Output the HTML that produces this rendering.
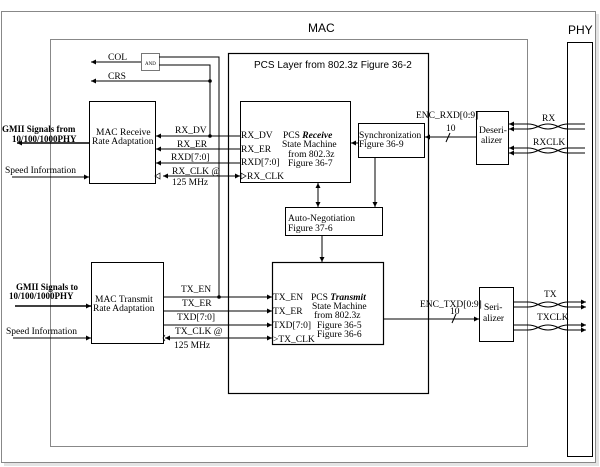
<!DOCTYPE html>
<html><head><meta charset="utf-8"><style>
html,body{margin:0;padding:0;background:#fff;}
svg{display:block;}
text{font-family:"Liberation Serif",serif;font-size:9.5px;fill:#000;}
.s{font-family:"Liberation Sans",sans-serif;font-size:12px;}
.b{font-weight:bold;}
</style></head><body>
<svg width="600" height="467" viewBox="0 0 600 467" xmlns="http://www.w3.org/2000/svg">
<defs>
<marker id="a" markerWidth="6" markerHeight="6" refX="5" refY="3" orient="auto" markerUnits="userSpaceOnUse"><path d="M0,0.5 L5,3 L0,5.5 z" fill="#000"/></marker>
<marker id="as" markerWidth="6" markerHeight="6" refX="1" refY="3" orient="auto" markerUnits="userSpaceOnUse"><path d="M6,0.5 L1,3 L6,5.5 z" fill="#000"/></marker>
</defs>
<rect x="4" y="14" width="595" height="452" fill="#e4e4e4"/>
<rect x="1.5" y="11.5" width="594" height="451" fill="#fff" stroke="#888"/>
<text class="s" x="308" y="32">MAC</text>
<text class="s" x="568" y="34">PHY</text>
<rect x="50.5" y="39.5" width="477" height="407" fill="none" stroke="#888"/>
<rect x="567.5" y="42.5" width="25" height="414" fill="#fff" stroke="#000"/>
<rect x="228.5" y="53.5" width="200" height="340" fill="none" stroke="#000" stroke-width="1.2"/>
<text class="s" x="254" y="68" style="font-size:10px">PCS Layer from 802.3z Figure 36-2</text>

<g stroke="#000" stroke-width="1" fill="none">
<rect x="141.5" y="53.5" width="18" height="17" stroke="#777"/>
<line x1="141" y1="62" x2="91" y2="62" marker-end="url(#a)"/>
<line x1="210" y1="81" x2="91" y2="81" marker-end="url(#a)"/>
<polyline points="159,57 219,57 219,297"/>
<polyline points="159,65 210,65 210,136"/>
<rect x="89.5" y="101.5" width="66" height="82"/>
<line x1="89" y1="143" x2="17" y2="143" marker-end="url(#a)" stroke-width="1.5"/>
<line x1="12" y1="177" x2="89" y2="177" marker-end="url(#a)"/>
<line x1="240" y1="136" x2="156" y2="136" marker-end="url(#a)"/>
<line x1="240" y1="149" x2="156" y2="149" marker-end="url(#a)"/>
<line x1="240" y1="163" x2="156" y2="163" marker-end="url(#a)"/>
<line x1="163" y1="176" x2="240" y2="176" marker-end="url(#a)" marker-start="url(#as)"/>
<rect x="240.5" y="101.5" width="110" height="81"/>
<rect x="358.5" y="123.5" width="66" height="34"/>
<line x1="358" y1="143" x2="351" y2="143" marker-end="url(#a)"/>
<line x1="476" y1="137" x2="425" y2="137" marker-end="url(#a)"/>
<line x1="446" y1="142" x2="450" y2="133"/>
<rect x="476.5" y="111.5" width="32" height="53"/>
<line x1="318" y1="183" x2="318" y2="207" marker-end="url(#a)" marker-start="url(#as)"/>
<line x1="375" y1="158" x2="375" y2="207" marker-end="url(#a)"/>
<rect x="285.5" y="207.5" width="97" height="28"/>
<line x1="322" y1="236" x2="322" y2="262" marker-end="url(#a)"/>
<rect x="91.5" y="262.5" width="72" height="81"/>
<line x1="15" y1="306" x2="91" y2="306" marker-end="url(#a)" stroke-width="1.5"/>
<line x1="13" y1="338" x2="91" y2="338" marker-end="url(#a)"/>
<line x1="164" y1="297" x2="272" y2="297" marker-end="url(#a)"/>
<line x1="164" y1="311" x2="272" y2="311" marker-end="url(#a)"/>
<line x1="164" y1="325" x2="272" y2="325" marker-end="url(#a)"/>
<line x1="165" y1="338" x2="272" y2="338" marker-end="url(#a)" marker-start="url(#as)"/>
<rect x="272.5" y="262.5" width="111" height="82" stroke-width="1.2"/>
<line x1="383" y1="319" x2="479" y2="319" marker-end="url(#a)"/>
<line x1="452" y1="323" x2="456" y2="314"/>
<rect x="479.5" y="287.5" width="34" height="54"/>
<path d="M585,124 H568 C558,124 558,129 548,129 C538,129 538,124 528,124 H509" marker-end="url(#a)"/>
<path d="M585,129 H568 C558,129 558,124 548,124 C538,124 538,129 528,129 H509" marker-end="url(#a)"/>
<path d="M585,148 H568 C558,148 558,153 548,153 C538,153 538,148 528,148 H509" marker-end="url(#a)"/>
<path d="M585,153 H568 C558,153 558,148 548,148 C538,148 538,153 528,153 H509" marker-end="url(#a)"/>
<path d="M514,302 H528 C538,302 538,307 548,307 C558,307 558,302 568,302 H586" marker-end="url(#a)"/>
<path d="M514,307 H528 C538,307 538,302 548,302 C558,302 558,307 568,307 H586" marker-end="url(#a)"/>
<path d="M514,325 H528 C538,325 538,330 548,330 C558,330 558,325 568,325 H586" marker-end="url(#a)"/>
<path d="M514,330 H528 C538,330 538,325 548,325 C558,325 558,330 568,330 H586" marker-end="url(#a)"/>
</g>
<g fill="#000">
<circle cx="210" cy="81" r="1.8"/><circle cx="210" cy="136" r="1.8"/><circle cx="219" cy="297" r="1.8"/>
</g>
<path d="M160,173 L155,176 L160,179 z M165,335 L163,338 L165,341" fill="none" stroke="#000" stroke-width="0.7"/>
<path d="M241,173 L246,176 L241,179 z" fill="none" stroke="#000" stroke-width="0.7"/>

<text x="145" y="65" style="font-size:5px">AND</text>
<text x="108" y="60">COL</text>
<text x="108" y="79">CRS</text>
<text class="b" x="2" y="132" style="font-size:9px">GMII Signals from</text>
<text class="b" x="12" y="142" style="font-size:9px">10/100/1000PHY</text>
<text x="5" y="173">Speed Information</text>
<text x="96" y="135">MAC Receive</text>
<text x="92" y="144">Rate Adaptation</text>
<text x="175" y="133">RX_DV</text>
<text x="177" y="147">RX_ER</text>
<text x="171" y="160">RXD[7:0]</text>
<text x="172" y="174">RX_CLK @</text>
<text x="172" y="185">125 MHz</text>
<text x="241" y="138">RX_DV</text>
<text x="241" y="152">RX_ER</text>
<text x="241" y="165">RXD[7:0]</text>
<text x="247" y="179">RX_CLK</text>
<text x="283" y="138">PCS <tspan font-weight="bold" font-style="italic">Receive</tspan></text>
<text x="282" y="147">State Machine</text>
<text x="288" y="157">from 802.3z</text>
<text x="288" y="166">Figure 36-7</text>
<text x="359" y="138">Synchronization</text>
<text x="359" y="147">Figure 36-9</text>
<text x="416" y="118">ENC_RXD[0:9]</text>
<text x="446" y="131">10</text>
<text x="479" y="133">Deseri-</text>
<text x="481" y="143">alizer</text>
<text x="542" y="121">RX</text>
<text x="533" y="145">RXCLK</text>
<text x="288" y="221">Auto-Negotiation</text>
<text x="288" y="231">Figure 37-6</text>
<text class="b" x="16" y="290" style="font-size:9px">GMII Signals to</text>
<text class="b" x="9" y="299" style="font-size:9px">10/100/1000PHY</text>
<text x="6" y="334">Speed Information</text>
<text x="95" y="302">MAC Transmit</text>
<text x="93" y="311">Rate Adaptation</text>
<text x="181" y="292">TX_EN</text>
<text x="182" y="306">TX_ER</text>
<text x="177" y="320">TXD[7:0]</text>
<text x="175" y="334">TX_CLK @</text>
<text x="174" y="348">125 MHz</text>
<text x="273" y="300">TX_EN</text>
<text x="273" y="314">TX_ER</text>
<text x="273" y="328">TXD[7:0]</text>
<text x="273" y="342">&gt;TX_CLK</text>
<text x="311" y="300">PCS <tspan font-weight="bold" font-style="italic">Transmit</tspan></text>
<text x="312" y="309">State Machine</text>
<text x="314" y="318">from 802.3z</text>
<text x="317" y="328">Figure 36-5</text>
<text x="317" y="337">Figure 36-6</text>
<text x="420" y="307">ENC_TXD[0:9]</text>
<text x="450" y="314">10</text>
<text x="484" y="310">Seri-</text>
<text x="483" y="321">alizer</text>
<text x="544" y="297">TX</text>
<text x="537" y="320">TXCLK</text>
</svg>
</body></html>
